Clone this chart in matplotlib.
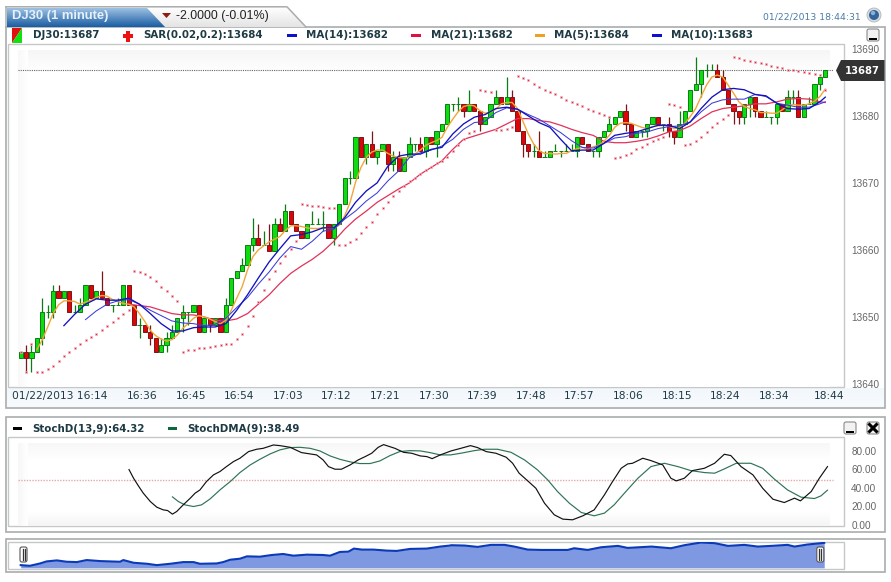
import numpy as np
import matplotlib
matplotlib.use("Agg")
import matplotlib.pyplot as plt
from matplotlib.patches import Rectangle, Polygon, FancyBboxPatch, Circle
from matplotlib.transforms import ScaledTranslation

W, H = 891, 582
SANS = "Liberation Sans"
DV = "DejaVu Sans"

opens = [13644,13645,13644,13645,13647,13651,13651,13654,13653,13654,13651,13651,13652,13655,13653,13654,13653,13652,13652,13652,
 13655,13652,13649,13649,13648,13647,13645,13646,13647,13648,13650,13651,13651,13652,13648,13650,13649,13650,13648,13652,
 13656,13657,13658,13661,13662,13661,13661,13660,13664,13663,13666,13664,13663,13662,13664,13664,13664,13664,13662,13664,
 13667,13671,13671,13677,13674,13676,13674,13675,13676,13673,13674,13672,13674,13676,13676,13675,13677,13676,13678,13679,
 13682,13682,13682,13681,13682,13681,13679,13680,13682,13683,13682,13683,13681,13678,13676,13675,13675,13674,13674,13675,
 13675,13675,13675,13675,13677,13676,13675,13675,13677,13678,13679,13680,13681,13679,13677,13678,13678,13679,13680,13679,
 13679,13678,13677,13679,13681,13684,13685,13687,13687,13687,13686,13684,13682,13681,13680,13682,13683,13681,13680,13680,
 13680,13682,13681,13683,13683,13680,13682,13682,13685,13686]
closes = [13645,13644,13645,13647,13651,13651,13654,13653,13654,13651,13651,13652,13655,13653,13654,13653,13652,13652,13652,13655,
 13652,13649,13649,13648,13647,13645,13646,13647,13648,13650,13651,13651,13652,13648,13650,13649,13650,13648,13652,13656,
 13657,13658,13661,13662,13661,13661,13660,13664,13663,13666,13664,13663,13662,13664,13664,13664,13664,13662,13664,13667,
 13671,13671,13677,13674,13676,13674,13675,13676,13673,13674,13672,13674,13676,13676,13675,13677,13676,13678,13679,13682,
 13682,13682,13681,13682,13681,13679,13680,13682,13683,13682,13683,13681,13678,13676,13675,13675,13674,13674,13675,13675,
 13675,13675,13675,13677,13676,13675,13675,13677,13678,13679,13680,13681,13679,13677,13678,13678,13679,13680,13679,13679,
 13678,13677,13679,13681,13684,13685,13687,13687,13687,13686,13684,13682,13681,13680,13682,13683,13681,13680,13680,13680,
 13682,13681,13683,13683,13680,13682,13682,13685,13686,13687]
highs = [13645,13646,13646,13647,13653,13652,13655,13655,13654,13654,13652,13653,13655,13655,13654,13657,13653,13652,13653,13655,
 13655,13652,13650,13649,13649,13647,13647,13648,13649,13650,13652,13651,13652,13652,13650,13650,13650,13650,13653,13656,
 13657,13659,13661,13665,13664,13663,13664,13665,13665,13667,13666,13664,13663,13664,13666,13665,13666,13664,13664,13667,
 13671,13672,13677,13677,13676,13678,13675,13676,13676,13675,13675,13674,13677,13676,13677,13677,13677,13678,13679,13682,
 13682,13683,13682,13684,13682,13681,13680,13682,13684,13683,13686,13684,13681,13678,13676,13676,13678,13675,13675,13676,
 13675,13676,13676,13677,13677,13676,13675,13677,13678,13680,13680,13681,13682,13679,13678,13678,13679,13680,13680,13679,
 13680,13678,13681,13681,13684,13689,13687,13688,13688,13688,13687,13684,13682,13681,13682,13683,13683,13681,13681,13680,
 13682,13682,13684,13684,13684,13682,13683,13685,13686,13687]
lows = [13644,13642,13642,13645,13646,13650,13650,13653,13653,13651,13651,13651,13652,13653,13653,13653,13652,13651,13652,13652,
 13652,13649,13647,13648,13646,13645,13645,13645,13647,13648,13648,13649,13651,13648,13648,13648,13649,13648,13648,13652,
 13656,13657,13658,13660,13661,13661,13660,13660,13663,13663,13664,13663,13662,13662,13664,13664,13663,13662,13661,13664,
 13667,13670,13671,13674,13673,13674,13673,13675,13672,13672,13672,13672,13674,13675,13675,13674,13676,13674,13678,13679,
 13681,13681,13680,13681,13681,13678,13679,13680,13682,13682,13682,13681,13678,13674,13674,13674,13674,13674,13674,13675,
 13674,13675,13675,13674,13676,13675,13674,13674,13677,13678,13679,13680,13678,13677,13677,13677,13677,13679,13679,13678,
 13677,13676,13677,13679,13681,13684,13683,13686,13687,13686,13684,13682,13679,13679,13679,13680,13680,13680,13680,13679,
 13679,13681,13681,13682,13680,13680,13682,13682,13684,13686]

sar = [13645.0,13642.0,13646.1,13642.0,13642.0,13642.5,13642.9,13643.6,13644.3,13645.0,13645.6,13646.2,13646.7,13647.2,13647.7,13648.2,13648.8,13649.5,13650.1,13650.7,13651.2,
 13657.1,13656.9,13656.6,13656.2,13655.5,13654.7,13654.0,13653.3,13652.6,
 13645.0,13645.2,13645.3,13645.5,13645.6,13645.7,13645.8,13646.0,13646.2,13646.2,13646.9,13647.7,13648.9,13650.4,13652.4,13654.2,13655.8,13657.1,13658.2,13659.3,13660.4,13661.5,
 13667.0,13666.9,13666.8,13666.7,13666.6,13666.5,13666.5,
 13660.9,13660.9,13661.4,13661.9,13662.7,13663.6,13664.4,13665.5,13666.5,13667.4,13668.3,13669.0,13669.8,13670.5,13671.0,13671.5,13672.1,13672.6,13673.1,13673.4,13674.0,13675.0,13675.9,13676.8,13677.7,13678.0,
 13684.1,13683.9,13683.8,
 13678.1,13678.1,13678.3,13678.5,
 13686.2,13685.9,13685.5,13685.0,13684.5,13684.1,13683.7,13683.4,13683.0,13682.6,13682.3,13682.0,13681.7,13681.3,
 13680.9,13680.6,13680.3,13680.1,
 13673.9,13674.1,13674.3,13674.7,13675.2,13675.5,13676.0,13676.4,13676.8,13677.1,
 13682.0,13681.8,13681.6,
 13675.9,13676.0,13676.4,13677.1,13677.8,13678.5,13679.2,13679.8,13680.3,
 13689.0,13688.8,13688.6,13688.4,13688.2,13688.1,13687.9,13687.7,13687.5,13687.3,13687.1,13687.0,13686.9,13686.8,13686.6,13686.4,13686.3,
 13684.0]

ma5 = [13645.3,13646.8,13648.7,13650.7,13652,13652.6,13652.6,13652.5,13652.1,13652.4,13652.7,13653.1,13653.4,13653.3,13652.8,13652.5,13652.2,13652.1,13651.7,13650.7,
 13649.5,13648.2,13647.4,13646.9,13646.6,13646.8,13647.5,13648.5,13649.2,13650,13650.4,13650.2,13649.9,13649.5,13649.2,13649.7,13651.2,13653,13654.7,13657.2,
 13659.2,13660.2,13660.8,13661.4,13661.8,13662.2,13663.1,13663.8,13663.8,
 13663.7,13663.5,13663.4,13663.4,13663.5,13663.5,13663.5,13663.9,13665.3,13667.3,13670.3,13672.5,13674,13674.8,13675.1,13675.1,13674.6,13674.2,13674,13673.9,
 13674,13674.5,13675.1,13675.8,13676.2,13676.5,13677,13678.5,13679.7,13680.8,13681.6,13681.8,13681.7,13681,13680.6,13680.8,13681.2,13682,13682.2,13682.2,
 13681.3,13679.4,13677.5,13676,13675,13674.6,13674.6,13674.5,13674.6,13674.6,13675,13675.3,13675.5,13675.2,
 13675.6,13675.8,13676.4,13677.3,13678.5,13679.1,13679.2,13679.1,13678.8,13678.5,13678.3,13678.6,13678.7,13678.8,13678.7,13678.3,13678.5,13679.1,13680.1,13681.3,
 13683.1,13684.8,13686,13686.3,13686,13684.8,13683.6,13682.3,13681.6,13681.3,13681.1,13680.7,13680.7,13680.6,13680.6,13681.1,13681.7,13681.9,13681.8,13681.8,
 13682,13682.4,13683.1,13684.2]
ma5_idx = list(range(3, 150))

ma10 = [13648.9,13650.6,13652.1,13652.9,13652.7,13652.7,13653,13652.1,13650.7,13649.2,13648.1,13648.1,13648.6,13648.7,13648.7,13649.2,13651.2,13653.5,13656,13658.4,13660.4,13662.3,
 13662.5,13662.9,13663.5,13663.5,13665,13667.3,13669,13670.2,13672.7,13674.2,13674.5,13674.5,13675.2,13675.5,13677.5,13679,13680,13680.4,13681.3,13681.5,13681.2,13680.2,13679.2,13678.5,13676.7,13675,13675.1,
 13675.1,13676.1,13677.3,13677.6,13677.8,13678.3,13678.8,13678.8,13678.3,13679.3,13681.3,13683,13684.1,13684.3,13684.1,13683.4,13683.2,13682.1,13681.3,13681.2,13681.3,13682.3,13683]
ma10_idx = list(range(8, 150, 2)) + [149]

ma14 = [13649.8,13651.1,13652.1,13652.6,13652.8,13652.1,13651.2,13650.4,13649.6,13649.3,13649.2,13648.9,13649.1,13650,13651.6,13653.1,13655.1,13656.9,13659,13660.7,
 13660.3,13661.5,13663,13663.3,13664.8,13666,13667.5,13668.7,13670.5,13672,13674,13674.7,13675.1,13675.7,13676.7,13678.2,13679.2,13679.4,13680.7,13681.4,13681.2,13680.4,13679.7,13678.7,13677.7,13676.5,13675.5,
 13675.4,13676.1,13676.9,13677.1,13677.6,13677.8,13678.3,13678.6,13678.7,13679.3,13680.8,13682.1,13682.6,13682.7,13682.7,13683.4,13683.1,13682.1,13681.8,13681.5,13681.5,13682,13682.3]
ma14_idx = list(range(12, 150, 2)) + [149]

ma21 = [13652.1,13651.9,13651.7,13651.2,13650.7,13650.5,13650.5,13650.2,13649.7,13649.6,13649.9,13650.7,13652.1,13653.5,13655.2,13656.7,
 13657.8,13658.8,13660,13661.5,13663.3,13664.8,13666,13667.3,13668.3,13669.3,13670.2,13671.5,13672.5,13673.5,13675.2,13676.7,13677.2,13677.7,13678.2,13679,13679.8,13679.8,13679.5,13679.3,13678.8,13678.2,13677.7,
 13677.3,13676.4,13676.2,13676.2,13676.4,13676.7,13677.2,13677.8,13678,13678.7,13679.8,13680.8,13681.3,13681.5,13681.7,13682,13682,13682.3,13682.7,13682.8,13682.7,13682.3,13682.2]
ma21_idx = list(range(20, 150, 2)) + [149]

stoch_idx = [20.06,20.9,21.8,22.7,24,25.2,26.4,27.2,28.1,28.9,30.1,31.4,32.3,33.2,34.4,35.7,36.9,38.1,39.4,40.6,42.2,43.7,44.9,46.8,48,49.9,52,54.8,56,57,58.2,59.4,61,62.5,63.8,65,66.2,67.2,69.3,70.9,72.4,74,75.2,76.2,77.7,79.7,
 81.5,83.3,84.6,86.2,88,89.9,91.1,92.3,93.9,95.4,97,98.8,100.4,102.2,104.1,106.2,108.1,109.6,111.2,112.4,113.3,115.2,116.7,118.9,120.4,121.4,122.9,124.4,126.6,128.5,130.3,131.5,133.4,135.6,137.4,139.3,141.4,143.3,144.4,146.4,147.9,149.4]
stoch_d = [61.1,51.8,43.5,35.7,26.7,20.6,17.7,17,13.1,16,23.1,30.3,35.7,39.2,48.2,55.4,59,64.3,69.7,73.3,80.5,83,84,87.6,86.9,85.1,79.4,76.9,71.5,64.3,61.5,61.5,66.1,71.5,75.1,78.7,85.1,88,84,79.7,78.7,75.8,75.1,72.9,76.9,81.2,
 84,86.9,84.8,80.5,78.7,74.4,67.9,57.2,48.9,41,24.9,12.4,7.7,7,11.3,17.7,33.9,48.2,62.5,67.2,67.9,73.3,70.8,66.1,51.8,48.9,51.8,60,62.5,67.9,77.6,76.2,64.3,55.4,41,29.2,25.6,30.3,27.4,37.5,51.8,64.3]

dma_idx = [28.1,29.2,30.4,32,33.5,35.1,36.9,38.8,40.6,42.5,44.3,46.2,48,49.9,51.7,53.6,55.4,57.3,59.1,61,62.8,64.7,66.5,68.4,70.2,72.1,74,75.8,77.7,79.6,
 81.5,84,85.9,88.3,90.8,93.3,95.7,97.6,99.4,101.6,103.8,106.2,108.1,109.9,111.8,114.3,116.7,119.2,121.7,124.1,126.6,128.5,130.3,132.5,135.2,137.4,139.6,142,144.5,147,148.2,149.4]
stoch_dma = [31.7,26.7,23.1,21.3,23.1,29.6,39.2,48.2,57.9,66.1,72.2,78,82.3,84.8,85.1,84,81.2,75.8,72.2,69.4,67.6,67.6,70.4,76.2,80.5,81.5,81.2,79.4,76.9,76.9,
 78.7,81.5,83,83,79.7,71.5,60.8,50,37.5,24.9,14.9,11.3,14.2,23.1,35.7,51.8,64.3,67.9,64.3,60,57.9,57.2,61.8,67.9,67.9,62.5,50.7,39.2,31.4,29.9,32.8,38.9]

overview_idx = [0,1.7,3.6,4.8,6.7,8.5,10.4,12.2,14.7,18.4,19,20.9,23.4,25.2,27.7,30.1,32,33.2,36.3,37.5,38.8,40.6,41.9,44.3,46.5,48.6,50.5,53,56,57.3,59.1,60.7,61.7,63.2,65.3,67.8,69.6,72.1,75.2,77.7,79.5,
 79.7,82.2,84.6,87.1,89.6,91.4,93.9,96.4,101.3,102.5,105,107.5,110.6,112.4,116.8,120.4,122.9,126,128.5,131,134,136.5,139,142,143.3,145.7,148.8]
overview = [8,6,13,19,22,18,17,23,20,18,23,15,12,8,12,17,17,12,13,17,24,27,34,33,38,41,36,39,38,36,47,48,57,54,54,51,50,56,57,63,66,
 67,66,62,68,68,63,54,53,53,58,53,61,65,59,63,58,67,75,73,65,68,63,65,68,63,69,74]

tick_idx = [7.2, 22.5, 31.5, 40.5, 49.5, 58.5, 67.5, 76.5, 85.5, 94.5, 103.5, 112.5, 121.5, 130.5, 139.5, 149.8]
tick_labels = ["01/22/2013 16:14","16:36","16:45","16:54","17:03","17:12","17:21","17:30","17:39","17:48","17:57","18:06","18:15","18:24","18:34","18:44"]
price_ticks = [13640,13650,13660,13670,13680,13690]
stoch_ticks = [0,20,40,60,80]

legend_main = [(33,"DJ30:13687"),(143,"SAR(0.02,0.2):13684"),(306,"MA(14):13682"),(431,"MA(21):13682"),(554,"MA(5):13684"),(671,"MA(10):13683")]
legend_stoch = [(32,"StochD(13,9):64.32"),(187,"StochDMA(9):38.49")]

GREEN_F, GREEN_E = "#0fdc0f", "#0b7d14"
RED_F, RED_E = "#dc0508", "#7d1518"
C_MA5, C_MA10, C_MA14, C_MA21 = "#f2a63a", "#1212c0", "#3c3cdc", "#e2325a"
TXT = "#1e3a44"

fig = plt.figure(figsize=(W/100, H/100), dpi=100, facecolor="white")
def px_axes(x0, y0, x1, y1, z):
    ax = fig.add_axes([x0/W, 1-y1/H, (x1-x0)/W, (y1-y0)/H], zorder=z)
    ax.patch.set_alpha(0)
    return ax

ch = px_axes(0, 0, W, H, 0)
ch.set_axis_off()

def vgrad(x0, y0, x1, y1, c0, c1, clip=None, horizontal=False, z=1):
    c0 = np.array(matplotlib.colors.to_rgb(c0)); c1 = np.array(matplotlib.colors.to_rgb(c1))
    t = np.linspace(0, 1, 32)
    g = c0[None, :]*(1-t[:, None]) + c1[None, :]*t[:, None]
    img = g[None, :, :] if horizontal else g[:, None, :]
    im = ch.imshow(img, extent=(x0, x1, y1, y0), aspect="auto", zorder=z, interpolation="bilinear")
    if clip is not None:
        im.set_clip_path(clip)
    return im

def panel(x0, y0, x1, y1, ec="#a9adad", lw=1.2, fc="white", z=2):
    ch.add_patch(Rectangle((x0, y0), x1-x0, y1-y0, fc=fc, ec=ec, lw=lw, zorder=z))

# outer panels
panel(6, 27, 885, 408, z=1)
panel(6, 417, 885, 532, z=1)
panel(6, 538.5, 885, 572, z=1)
vgrad(7, 388, 884, 407, "#f2f7fc", "#f8fbfe", z=1.5)

# tabs
tab2 = Polygon([(140,7),(287,7),(306,27),(165,27)], closed=True, fc="none", ec="none")
ch.add_patch(tab2); vgrad(140, 7, 306, 27, "#ffffff", "#e4e4e4", clip=tab2, z=1.6)
ch.plot([6,287,306],[6.8,6.8,27], color="#a9adad", lw=1.1, zorder=1.7)
ch.plot([6,6],[6.8,27], color="#a9adad", lw=1.1, zorder=1.7)
tab1 = Polygon([(7,8),(147,8),(165,27),(7,27)], closed=True, fc="none", ec="none")
ch.add_patch(tab1); vgrad(7, 8, 165, 27, "#9cc0e2", "#1b5da3", clip=tab1, z=1.8)
ch.text(12.5, 16.5, "DJ30 (1 minute)", color="#e8f1fa", fontsize=9.4, fontweight="bold", family=SANS, va="center", zorder=3)
ch.add_patch(Polygon([(162,13),(171,13),(166.5,18)], closed=True, fc="#8e1a14", ec="none", zorder=3))
ch.text(175.5, 16, "-2.0000 (-0.01%)", color="#222222", fontsize=8.95, family=SANS, va="center", zorder=3)
ch.text(861, 16.5, "01/22/2013 18:44:31", color="#4a7aa8", fontsize=6.7, family=DV, va="center", ha="right", zorder=3)
ch.add_patch(Circle((874, 15), 7, fc="#d8dde2", ec="#b0b5ba", lw=.6, zorder=3))
ch.add_patch(Circle((874, 15), 5, fc="#33659b", ec="none", zorder=3.1))
ch.add_patch(Circle((873, 13), 2.2, fc="#8cb0d4", ec="none", zorder=3.2))

# legend main
ch.add_patch(Polygon([(12,28),(22,28),(12,43)], closed=True, fc="#e01010", ec="none", zorder=3))
ch.add_patch(Polygon([(22,28),(22,43),(12,43)], closed=True, fc="#11e011", ec="none", zorder=3))
ch.add_patch(Rectangle((123,34),10,4, fc="#ee1111", ec="none", zorder=3))
ch.add_patch(Rectangle((126,31),4,11, fc="#ee1111", ec="none", zorder=3))
for x0, c in [(287,"#0f0fd0"),(411,"#e01040"),(535,"#f0a020"),(652,"#0f0fd0")]:
    ch.add_patch(Rectangle((x0,34),10,3, fc=c, ec="none", zorder=3))
for x0, s in legend_main:
    ch.text(x0, 35.5, s, color=TXT, fontsize=7.4, fontweight="bold", family=DV, va="center", zorder=3)

# legend stochastic
ch.add_patch(Rectangle((13,426.5),9,3.5, fc="black", ec="none", zorder=3))
ch.add_patch(Rectangle((168,426.5),9,3.5, fc="#0a6a3c", ec="none", zorder=3))
for x0, s in legend_stoch:
    ch.text(x0, 428.5, s, color=TXT, fontsize=7.4, fontweight="bold", family=DV, va="center", zorder=3)

def button(cx, cy, close=False):
    ch.add_patch(FancyBboxPatch((cx-5, cy-5), 10, 10, boxstyle="round,pad=1,rounding_size=2", fc="#f2f2f2", ec="#8a8a8a", lw=.8, zorder=3))
    if close:
        ch.plot([cx-3.5,cx+3.5],[cy-3.5,cy+3.5], color="black", lw=2.2, zorder=4)
        ch.plot([cx-3.5,cx+3.5],[cy+3.5,cy-3.5], color="black", lw=2.2, zorder=4)
    else:
        ch.add_patch(Rectangle((cx-4, cy+2.5), 8, 2, fc="black", ec="none", zorder=4))
button(873, 35); button(850, 428); button(873, 428, True)

# inner plot rects
panel(8.3, 44, 844.3, 387.3, ec="#c6c8c8", lw=1, z=1.6)
panel(8.3, 437, 844.3, 526.3, ec="#c6c8c8", lw=1, z=1.6)
panel(8.3, 541.5, 844.3, 568.5, ec="#c6c8c8", lw=1, z=1.6)
vgrad(18, 50, 830, 72, "#f6f6f6", "#ffffff", z=1.7)
vgrad(18, 50, 28, 387, "#f8f8f8", "#ffffff", horizontal=True, z=1.75)
ch.add_patch(Rectangle((28,72),802,315, fc="white", ec="none", zorder=1.72))
vgrad(18, 443, 830, 460, "#f7f7f7", "#ffffff", z=1.7)
vgrad(18, 512, 830, 526, "#ffffff", "#f4f4f4", z=1.7)
vgrad(18, 443, 28, 526, "#f7f7f7", "#ffffff", horizontal=True, z=1.75)

# price pill
ch.add_patch(Polygon([(836,70.5),(841,60),(884.5,60),(884.5,81),(841,81)], closed=True, fc="#333333", ec="none", zorder=3))
ch.text(862, 70.5, "13687", color="white", fontsize=7.2, fontweight="bold", family=DV, ha="center", va="center", zorder=4)

ch.set_xlim(0, W); ch.set_ylim(H, 0)

up_shift = ScaledTranslation(0, 1.4/72*0.72, fig.dpi_scale_trans)

# main chart
XLIM = ((8.3-20.7)/5.4, (844.3-20.7)/5.4)
ax = px_axes(8.3, 44, 844.3, 387.3, 2)
idx = np.arange(len(closes))
o, c, h, l = map(np.array, (opens, closes, highs, lows))
up = c >= o
ax.vlines(idx[up], l[up], h[up], color=GREEN_E, lw=.9, zorder=2)
ax.vlines(idx[~up], l[~up], h[~up], color=RED_E, lw=.9, zorder=2)
ax.bar(idx[up], (c-o)[up], bottom=o[up], width=0.8, fc=GREEN_F, ec=GREEN_E, lw=.7, zorder=3)
ax.bar(idx[~up], (o-c)[~up], bottom=c[~up], width=0.8, fc=RED_F, ec=RED_E, lw=.7, zorder=3)
ax.plot(range(len(sar)), sar, ls="none", marker="s", ms=1.7, mfc="#dd3048", mec="#f6b8c0", mew=.45, zorder=6)
ax.plot(ma21_idx, ma21, color=C_MA21, lw=.9, zorder=4)
ax.plot(ma5_idx, ma5, color=C_MA5, lw=1, zorder=4.2)
ax.plot(ma14_idx, ma14, color=C_MA14, lw=.75, zorder=4.4)
ax.plot(ma10_idx, ma10, color=C_MA10, lw=.95, zorder=4.6)
ax.hlines(closes[-1], -0.5, 150.5, color="#666666", lw=.8, linestyles=(0,(1,1)), zorder=1)
ax.set_xlim(*XLIM); ax.set_ylim(13639.7, 13690.93)
ax.yaxis.tick_right()
ax.set_yticks(price_ticks); ax.set_yticklabels([str(v) for v in price_ticks], family=SANS, fontsize=7.2, color="#666666")
ax.set_xticks(tick_idx); ax.set_xticklabels(tick_labels, family=DV, fontsize=7.7, color=TXT)
ax.tick_params(length=0, pad=2.5, axis="x"); ax.tick_params(length=0, pad=5, axis="y")
for s in ax.spines.values(): s.set_visible(False)
for t in ax.get_yticklabels(): t.set_transform(t.get_transform() + up_shift)

# stochastic
sx = px_axes(8.3, 437, 844.3, 526.3, 2)
sx.hlines(50, -0.5, 150.5, color="#e6a8a8", lw=1, linestyles=(0,(1,1)), zorder=1)
sx.plot(dma_idx, stoch_dma, color="#2f7355", lw=.85, zorder=3)
sx.plot(stoch_idx, stoch_d, color="#111111", lw=.85, zorder=4)
sx.set_xlim(*XLIM); sx.set_ylim(0.18, 96.2)
sx.yaxis.tick_right(); sx.set_xticks([])
sx.set_yticks(stoch_ticks); sx.set_yticklabels([f"{v:.2f}" for v in stoch_ticks], family=SANS, fontsize=7.2, color="#666666")
sx.tick_params(length=0, pad=5)
for s in sx.spines.values(): s.set_visible(False)
for t in sx.get_yticklabels(): t.set_transform(t.get_transform() + up_shift)

# overview
ox = px_axes(8.3, 541.5, 844.3, 568.5, 2)
ox.fill_between(overview_idx, 0, overview, color="#7f98e2", lw=0, zorder=2)
ox.plot(overview_idx, overview, color="#0a3ab8", lw=1.5, zorder=3)
ox.set_xlim(*XLIM); ox.set_ylim(-2, 78)
ox.set_xticks([]); ox.set_yticks([])
for s in ox.spines.values(): s.set_visible(False)

# handles
tp = px_axes(0, 0, W, H, 5); tp.set_axis_off(); tp.set_xlim(0, W); tp.set_ylim(H, 0)
for cx in (23.5, 820.3):
    tp.add_patch(FancyBboxPatch((cx-2.5, 548), 5, 13, boxstyle="round,pad=1,rounding_size=2", fc="white", ec="#555555", lw=.8))
    tp.plot([cx-1,cx-1],[549,560], color="#333333", lw=.9)
    tp.plot([cx+1,cx+1],[549,560], color="#333333", lw=.9)

fig.savefig("out.png", dpi=100)
